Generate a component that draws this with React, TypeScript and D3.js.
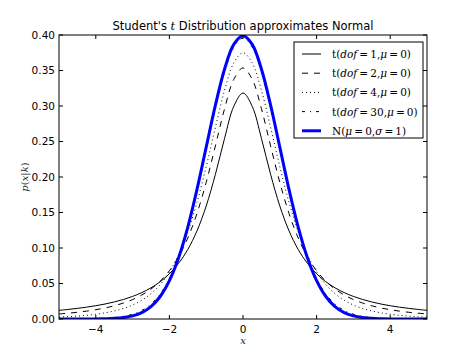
import React from "react";
import * as d3 from "d3";

const xs = [-5, -4.75, -4.5, -4.25, -4, -3.75, -3.5, -3.25, -3, -2.75, -2.5, -2.25, -2, -1.75, -1.5, -1.25, -1, -0.75, -0.5, -0.25, 0, 0.25, 0.5, 0.75, 1, 1.25, 1.5, 1.75, 2, 2.25, 2.5, 2.75, 3, 3.25, 3.5, 3.75, 4, 4.25, 4.5, 4.75, 5];

const t1 = [0.0122, 0.0135, 0.015, 0.0167, 0.0187, 0.0211, 0.024, 0.0275, 0.0318, 0.0372, 0.0439, 0.0525, 0.0637, 0.0784, 0.0979, 0.1242, 0.1592, 0.2037, 0.2546, 0.2996, 0.3183, 0.2996, 0.2546, 0.2037, 0.1592, 0.1242, 0.0979, 0.0784, 0.0637, 0.0525, 0.0439, 0.0372, 0.0318, 0.0275, 0.024, 0.0211, 0.0187, 0.0167, 0.015, 0.0135, 0.0122];
const t2 = [0.0071, 0.0082, 0.0095, 0.0111, 0.0131, 0.0155, 0.0186, 0.0225, 0.0274, 0.0338, 0.0422, 0.0533, 0.068, 0.0878, 0.1141, 0.1487, 0.1925, 0.2438, 0.2963, 0.3376, 0.3536, 0.3376, 0.2963, 0.2438, 0.1925, 0.1487, 0.1141, 0.0878, 0.068, 0.0533, 0.0422, 0.0338, 0.0274, 0.0225, 0.0186, 0.0155, 0.0131, 0.0111, 0.0095, 0.0082, 0.0071];
const t4 = [0.0026, 0.0033, 0.0041, 0.0052, 0.0067, 0.0087, 0.0113, 0.0148, 0.0197, 0.0264, 0.0357, 0.0485, 0.0663, 0.0905, 0.1229, 0.1644, 0.2147, 0.2699, 0.3223, 0.3607, 0.375, 0.3607, 0.3223, 0.2699, 0.2147, 0.1644, 0.1229, 0.0905, 0.0663, 0.0485, 0.0357, 0.0264, 0.0197, 0.0148, 0.0113, 0.0087, 0.0067, 0.0052, 0.0041, 0.0033, 0.0026];
const t30 = [0.0, 0.0001, 0.0001, 0.0002, 0.0005, 0.001, 0.002, 0.0037, 0.0068, 0.0121, 0.0211, 0.0353, 0.0568, 0.0877, 0.129, 0.1801, 0.238, 0.2966, 0.3479, 0.383, 0.3956, 0.383, 0.3479, 0.2966, 0.238, 0.1801, 0.129, 0.0877, 0.0568, 0.0353, 0.0211, 0.0121, 0.0068, 0.0037, 0.002, 0.001, 0.0005, 0.0002, 0.0001, 0.0001, 0.0];
const normal = [0.0, 0.0, 0.0, 0.0, 0.0001, 0.0004, 0.0009, 0.002, 0.0044, 0.0091, 0.0175, 0.0317, 0.054, 0.0863, 0.1295, 0.1826, 0.242, 0.3011, 0.3521, 0.3867, 0.3989, 0.3867, 0.3521, 0.3011, 0.242, 0.1826, 0.1295, 0.0863, 0.054, 0.0317, 0.0175, 0.0091, 0.0044, 0.002, 0.0009, 0.0004, 0.0001, 0.0, 0.0, 0.0, 0.0];

const xTicks = [-4, -2, 0, 2, 4];
const yTicks = [0.0, 0.05, 0.1, 0.15, 0.2, 0.25, 0.3, 0.35, 0.4];
const dofs = ["1", "2", "4", "30"];

const series = [
  { dof: dofs[0], values: t1, dash: "" },
  { dof: dofs[1], values: t2, dash: "6,6" },
  { dof: dofs[2], values: t4, dash: "1,3" },
  { dof: dofs[3], values: t30, dash: "3,5,1,5" },
];

export default function App() {
  const W = 474, H = 355;
  const L = 59, R = 427, T = 35, B = 319;
  const x = d3.scaleLinear().domain([-5, 5]).range([L, R]);
  const y = d3.scaleLinear().domain([0, 0.4]).range([B, T]);
  const line = (vals: number[]) =>
    d3.line<number>().x((_, i) => x(xs[i])).y(d => y(d)).curve(d3.curveCatmullRom.alpha(0.5))(vals) || "";
  const sans = "DejaVu Sans";
  const serif = "DejaVu Serif";
  const lgL = 294, lgT = 42, lgR = 423, lgB = 138;
  const rowY = (i: number) => 54 + i * 19.2;
  const eq = "\u2009=\u2009";
  return (
    <svg width={W} height={H} style={{ position: "absolute", left: 0, top: 0, background: "#fff" }}>
      <rect x={0} y={0} width={W} height={H} fill="#fff" />
      <defs>
        <clipPath id="c"><rect x={L} y={T} width={R - L} height={B - T} /></clipPath>
      </defs>
      <g clipPath="url(#c)">
        {series.map(s => (
          <path key={s.dof} d={line(s.values)} fill="none" stroke="#000" strokeWidth={1} strokeDasharray={s.dash} />
        ))}
        <path d={line(normal)} fill="none" stroke="#0000ff" strokeWidth={3} />
      </g>
      <rect x={L} y={T} width={R - L} height={B - T} fill="none" stroke="#000" strokeWidth={1} />
      {xTicks.map(t => (
        <g key={t}>
          <line x1={x(t)} x2={x(t)} y1={B} y2={B - 4} stroke="#000" />
          <line x1={x(t)} x2={x(t)} y1={T} y2={T + 4} stroke="#000" />
          <text x={x(t)} y={B + 14} fontFamily={sans} fontSize={10.5} textAnchor="middle">{t < 0 ? "\u2212" + Math.abs(t) : String(t)}</text>
        </g>
      ))}
      {yTicks.map(t => (
        <g key={t}>
          <line x1={L} x2={L + 4} y1={y(t)} y2={y(t)} stroke="#000" />
          <line x1={R} x2={R - 4} y1={y(t)} y2={y(t)} stroke="#000" />
          <text x={L - 4} y={y(t) + 3.7} fontFamily={sans} fontSize={10.5} textAnchor="end">{t.toFixed(2)}</text>
        </g>
      ))}
      <text x={243} y={30} fontFamily={sans} fontSize={11.5} textAnchor="middle">
        Student's <tspan fontFamily={serif} fontStyle="italic">t</tspan> Distribution approximates Normal
      </text>
      <text x={243} y={344} fontFamily={serif} fontStyle="italic" fontSize={10} fill="#222" textAnchor="middle">x</text>
      <text transform={`translate(28,${(T + B) / 2}) rotate(-90)`} fontFamily={serif} fontSize={10} fill="#222" textAnchor="middle">
        <tspan fontStyle="italic">p</tspan>(<tspan fontStyle="italic">x</tspan>|<tspan fontStyle="italic">k</tspan>)
      </text>
      <rect x={lgL} y={lgT} width={lgR - lgL} height={lgB - lgT} fill="#fff" stroke="#000" strokeWidth={1} />
      {series.map((s, i) => (
        <g key={s.dof}>
          <line x1={302} x2={321} y1={rowY(i)} y2={rowY(i)} stroke="#000" strokeWidth={1} strokeDasharray={s.dash} />
          <text x={332} y={rowY(i) + 4} fontFamily={serif} fontSize={10.5}>
            t(<tspan fontStyle="italic">dof</tspan>{eq}{s.dof},<tspan fontStyle="italic">μ</tspan>{eq}0)
          </text>
        </g>
      ))}
      <line x1={302} x2={321} y1={rowY(4)} y2={rowY(4)} stroke="#0000ff" strokeWidth={3} />
      <text x={332} y={rowY(4) + 4} fontFamily={serif} fontSize={10.5}>
        N(<tspan fontStyle="italic">μ</tspan>{eq}0,<tspan fontStyle="italic">σ</tspan>{eq}1)
      </text>
    </svg>
  );
}
